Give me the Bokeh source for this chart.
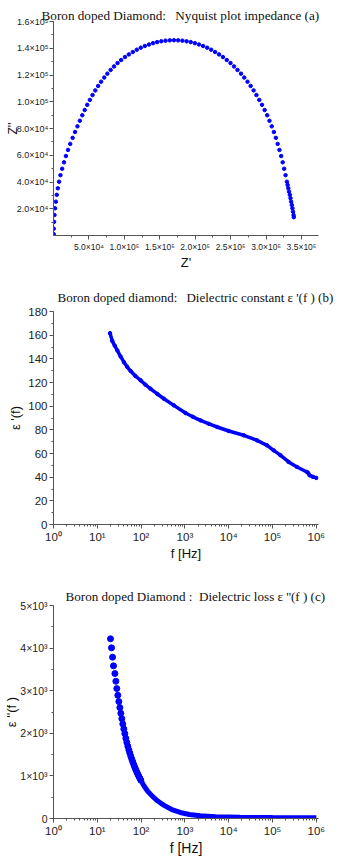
from bokeh.plotting import figure
from bokeh.layouts import column
from bokeh.models import Range1d, FixedTicker, CustomJSTickFormatter
from bokeh.embed import file_html
from bokeh.resources import INLINE

# ---------------- data ----------------
# (a) Nyquist plot: Z' and Z'' in kilo-ohm
z_real_k = [0.3, 0.4, 0.8, 1.4, 2.2, 3.3, 4.6, 6.1, 7.9, 9.8, 12.2, 14.8, 17.5, 20.5,
            23.6, 27.0, 30.4, 33.8, 37.2, 40.6, 44.0, 47.6, 51.3, 55.1, 59.0, 63.0,
            67.2, 71.6, 76.0, 80.6, 85.4, 90.4, 95.5, 100.9, 106.3, 111.9, 117.5,
            123.1, 128.9, 134.7, 140.5, 146.3, 152.2, 158.1, 164.1, 170.0,
            175.9, 181.9, 187.8, 193.7, 199.5, 205.3, 211.1, 216.9, 222.5, 228.1,
            233.7, 239.1, 244.5, 249.8, 254.8, 259.7, 264.6, 269.2, 273.8, 278.2,
            282.4, 286.4, 290.4, 294.3, 298.0, 301.6, 304.8, 308.0, 311.0, 313.8,
            316.4, 318.9, 321.3, 323.5, 325.5, 327.5, 329.4, 330.4, 331.4, 332.4,
            333.5, 334.5, 335.4, 336.3, 337.2, 338.0, 338.8, 339.2]
z_imag_k = [1.0, 5.1, 10.2, 15.3, 20.3, 25.3, 30.4, 35.3, 40.2, 45.1, 49.9, 54.7, 59.4, 64.0,
            68.5, 73.0, 77.4, 81.6, 85.8, 89.9, 93.8, 97.7, 101.4, 105.0, 108.5, 111.8,
            115.0, 118.1, 121.0, 123.8, 126.4, 128.9, 131.2, 133.4, 135.4, 137.2, 138.9,
            140.4, 141.7, 142.8, 143.8, 144.6, 145.2, 145.7, 145.9, 146.0,
            145.9, 145.7, 145.2, 144.6, 143.8, 142.8, 141.7, 140.4, 138.9, 137.2,
            135.4, 133.4, 131.2, 128.9, 126.4, 123.8, 121.0, 118.1, 115.0, 111.8,
            108.5, 105.0, 101.4, 97.7, 93.8, 89.9, 85.8, 81.6, 77.4, 73.0,
            68.5, 64.0, 59.4, 54.7, 49.9, 45.1, 40.2, 37.8, 35.3, 32.8,
            30.4, 27.9, 25.3, 22.8, 20.3, 17.8, 15.3, 13.7]
z_real = [v * 1000 for v in z_real_k]
z_imag = [v * 1000 for v in z_imag_k]

# (b) dielectric constant eps'(f)
f_b = [19.5, 22.0, 25.1, 28.6, 33.9, 40.6, 47.9, 57.7, 74.1, 97.5, 125.9, 164.4, 234.4,
       331.1, 558.5, 1033, 1514, 2265, 3548, 5433, 10000, 21980, 44360, 74990, 105900,
       150700, 232800, 361400, 609500, 650000, 699800, 831800, 1000000]
eps_r = [161.7, 155.0, 151.0, 147.1, 142.0, 137.2, 133.3, 129.7, 125.5, 121.8, 118.1,
         114.7, 110.3, 106.3, 100.7, 94.2, 91.0, 88.0, 85.0, 82.4, 79.0, 75.4, 71.1,
         66.9, 62.7, 58.6, 52.9, 48.6, 44.4, 43.6, 41.6, 40.3, 39.4]

# (c) dielectric loss eps''(f)
f_c = [20.0, 21.1, 22.3, 23.4, 25.2, 26.5, 27.9, 29.4, 31.0, 32.7, 34.4, 36.3, 38.2, 40.3,
       42.5, 44.8, 47.2, 49.8, 52.5, 55.2, 58.2, 61.4, 64.7, 68.2, 71.8, 75.7, 79.8, 84.1,
       88.7, 93.3, 98.4, 114.8, 141.3, 177.4, 239.9, 326.6, 501.2, 781.6, 1259, 2228,
       5012, 18070, 100000, 1000000]
eps_i = [4218, 4006, 3786, 3583, 3402, 3222, 3050, 2893, 2744, 2603, 2469, 2344, 2219, 2101,
         1992, 1881, 1785, 1695, 1610, 1535, 1460, 1390, 1325, 1260, 1200, 1145, 1090, 1040,
         990, 945, 900, 775, 640, 530, 410, 315, 210, 142, 95, 63,
         40, 28, 22, 20]
N_DOTS_C = 31      # the separately visible dots at the low-frequency end
N_BAND_START_C = 15

titles = ["Boron doped Diamond:\u2002\u2009Nyquist plot impedance (a)",
          "Boron doped diamond:\u2002\u2009Dielectric constant \u03b5 '(f )  (b)",
          "Boron doped Diamond :\u2002Dielectric loss \u03b5 ''(f ) (c)"]
y_titles = ["Z''", "\u03b5 '(f)", "\u03b5 ''(f )"]

BLUE = "#0000FF"
AX = "#555555"
SUP = 'const sup = {"0":"\u2070","1":"\u00b9","2":"\u00b2","3":"\u00b3","4":"\u2074","5":"\u2075","6":"\u2076","7":"\u2077"};'

def style(p, title, title_size, title_offset, title_standoff):
    p.title.text = title
    p.title.text_font = "Liberation Serif"
    p.title.text_font_style = "normal"
    p.title.text_font_size = title_size
    p.title.text_color = "#111111"
    p.title.align = "left"
    p.title.offset = title_offset
    p.title.standoff = title_standoff
    p.outline_line_color = None
    p.xgrid.visible = False
    p.ygrid.visible = False
    for ax in (p.xaxis[0], p.yaxis[0]):
        ax.axis_line_color = AX
        ax.major_tick_line_color = AX
        ax.minor_tick_line_color = AX
        ax.major_tick_out = 4
        ax.major_tick_in = 0
        ax.minor_tick_out = 2
        ax.minor_tick_in = 0
        ax.major_label_text_font = "Liberation Sans"
        ax.major_label_text_color = "#222222"
        ax.axis_label_text_font = "Liberation Sans"
        ax.axis_label_text_font_style = "normal"
        ax.axis_label_text_color = "#111111"
        ax.major_label_standoff = 2
        ax.axis_label_standoff = 0

# ---------------- (a) ----------------
pa = figure(width=342, height=280, x_range=Range1d(0, 374000), y_range=Range1d(0, 160000),
            output_backend="svg", toolbar_location=None,
            min_border_left=53, min_border_right=24, min_border_top=21, min_border_bottom=45)
style(pa, titles[0], "13.2px", -12, -3)
pa.scatter(z_real, z_imag, size=3.5, color=BLUE, marker="circle")
pa.xaxis.ticker = FixedTicker(ticks=[50000 * i for i in range(1, 8)],
                              minor_ticks=[25000 * i for i in range(1, 15)])
pa.yaxis.ticker = FixedTicker(ticks=[20000 * i for i in range(1, 9)],
                              minor_ticks=[10000 * i for i in range(1, 17)])
sci_a = CustomJSTickFormatter(code=SUP + """
const e = Math.floor(Math.log10(tick) + 1e-9);
const m = tick / Math.pow(10, e);
return m.toFixed(1) + "\u00d710" + sup[String(e)];
""")
pa.xaxis.formatter = sci_a
pa.yaxis.formatter = sci_a
pa.xaxis.major_label_text_font_size = "8.5px"
pa.yaxis.major_label_text_font_size = "9px"
pa.yaxis.major_label_standoff = 1
pa.xaxis.axis_label = "Z'"
pa.xaxis.axis_label_text_font_size = "13px"
pa.yaxis.axis_label = y_titles[0]
pa.yaxis.axis_label_text_font_size = "12px"
pa.yaxis.axis_label_standoff = -6

# ---------------- log axis helpers ----------------
log_fmt = CustomJSTickFormatter(code=SUP + """
const e = Math.round(Math.log10(tick));
return "10" + sup[String(e)];
""")
log_major = [10 ** d for d in range(0, 7)]
log_minor = [k * 10 ** d for d in range(0, 6) for k in range(2, 10)]

# ---------------- (b) ----------------
pb = figure(width=342, height=288, x_axis_type="log", x_range=Range1d(1, 1120000),
            y_range=Range1d(0, 180), output_backend="svg", toolbar_location=None,
            min_border_left=53, min_border_right=24, min_border_top=31, min_border_bottom=44)
style(pb, titles[1], "13px", 4, 14)
pb.line(f_b, eps_r, line_width=3.5, color=BLUE)
pb.scatter(f_b, eps_r, size=3.5, color=BLUE)
pb.xaxis.ticker = FixedTicker(ticks=log_major, minor_ticks=log_minor)
pb.xaxis.formatter = log_fmt
pb.yaxis.ticker = FixedTicker(ticks=[20 * i for i in range(0, 10)],
                              minor_ticks=[10 * i for i in range(0, 19)])
pb.xaxis.major_label_text_font_size = "11.5px"
pb.yaxis.major_label_text_font_size = "11.5px"
pb.xaxis.axis_label = "f [Hz]"
pb.xaxis.axis_label_text_font_size = "13px"
pb.yaxis.axis_label = y_titles[1]
pb.yaxis.axis_label_text_font_size = "13px"
pb.yaxis.axis_label_standoff = 2

# ---------------- (c) ----------------
pc = figure(width=342, height=291, x_axis_type="log", x_range=Range1d(1, 1120000),
            y_range=Range1d(0, 5000), output_backend="svg", toolbar_location=None,
            min_border_left=53, min_border_right=24, min_border_top=37, min_border_bottom=41)
style(pc, titles[2], "13.1px", 12, 3)
pc.line(f_c[N_BAND_START_C:], eps_i[N_BAND_START_C:], line_width=5, color=BLUE)
pc.scatter(f_c[:N_DOTS_C], eps_i[:N_DOTS_C], size=6, color=BLUE)
pc.xaxis.ticker = FixedTicker(ticks=log_major, minor_ticks=log_minor)
pc.xaxis.formatter = log_fmt
pc.yaxis.ticker = FixedTicker(ticks=[1000 * i for i in range(0, 6)],
                              minor_ticks=[500 * i for i in range(0, 11)])
pc.yaxis.formatter = CustomJSTickFormatter(code=SUP + """
if (tick == 0) { return "0"; }
return String(Math.round(tick / 1000)) + "\u00d710\u00b3";
""")
pc.xaxis.major_label_text_font_size = "11.5px"
pc.yaxis.major_label_text_font_size = "10.5px"
pc.xaxis.axis_label = "f [Hz]"
pc.xaxis.axis_label_text_font_size = "14px"
pc.yaxis.axis_label = y_titles[2]
pc.yaxis.axis_label_text_font_size = "13px"
pc.yaxis.axis_label_standoff = -2

layout = column(pa, pb, pc, spacing=0)
open("out.html", "w").write(file_html(layout, INLINE))
